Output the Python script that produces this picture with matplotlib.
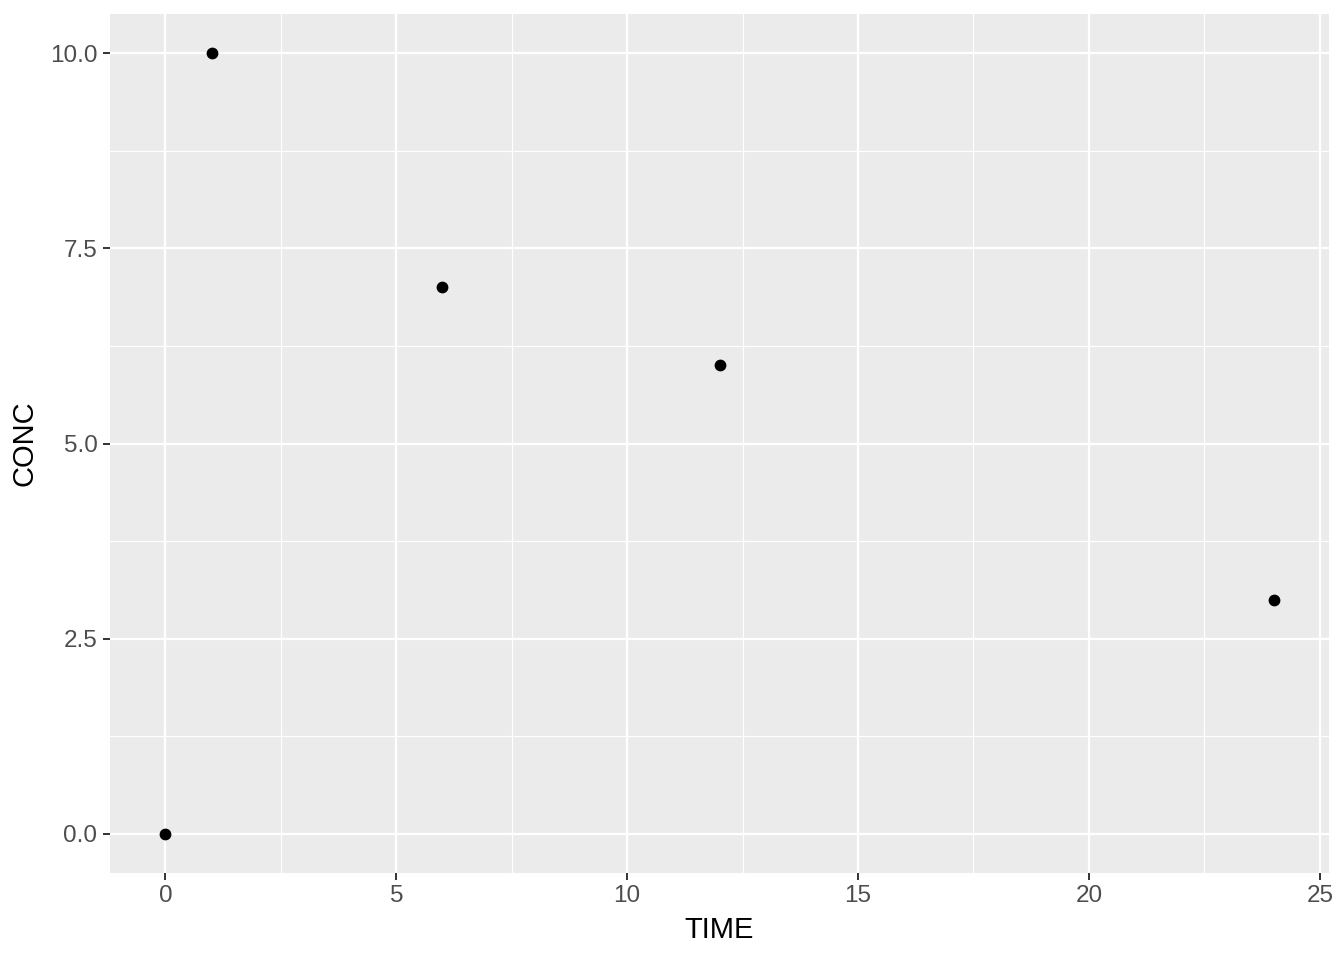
import numpy as np
import matplotlib.pyplot as plt

# observed concentration over time
time = [0, 1, 6, 12, 24]
conc = [0, 10, 7, 6, 3]

x_ticks = [0, 5, 10, 15, 20, 25]
y_ticks = [0.0, 2.5, 5.0, 7.5, 10.0]

plt.rcParams['font.family'] = ['Liberation Sans', 'DejaVu Sans']

fig = plt.figure(figsize=(13.44, 9.6), dpi=100)
ax = fig.add_axes([110/1344, 87/960, 1219/1344, 859/960])
ax.set_facecolor('#EBEBEB')

# ggplot-like expansion of 5%
xr = max(time) - min(time)
yr = max(conc) - min(conc)
ax.set_xlim(min(time) - 0.05*xr, max(time) + 0.05*xr)
ax.set_ylim(min(conc) - 0.05*yr, max(conc) + 0.05*yr)

ax.set_xticks(x_ticks)
ax.set_yticks(y_ticks)
ax.set_xticklabels([str(t) for t in x_ticks])
ax.set_yticklabels([f"{t:.1f}" for t in y_ticks])
ax.set_xticks([2.5, 7.5, 12.5, 17.5, 22.5], minor=True)
ax.set_yticks([1.25, 3.75, 6.25, 8.75], minor=True)

ax.grid(which='major', color='white', linewidth=1.65)
ax.grid(which='minor', color='white', linewidth=0.85)
ax.set_axisbelow(True)
for s in ax.spines.values():
    s.set_visible(False)

ax.tick_params(which='major', length=5, width=1.4, color='#333333',
               labelsize=17.5, labelcolor='#4D4D4D', pad=4)
ax.tick_params(which='minor', length=0)

ax.scatter(time, conc, s=72, color='black', zorder=3, linewidths=0)

ax.set_xlabel('TIME', fontsize=21, labelpad=6)
ax.set_ylabel('CONC', fontsize=21, labelpad=8)

fig.savefig('out.png', dpi=100)
